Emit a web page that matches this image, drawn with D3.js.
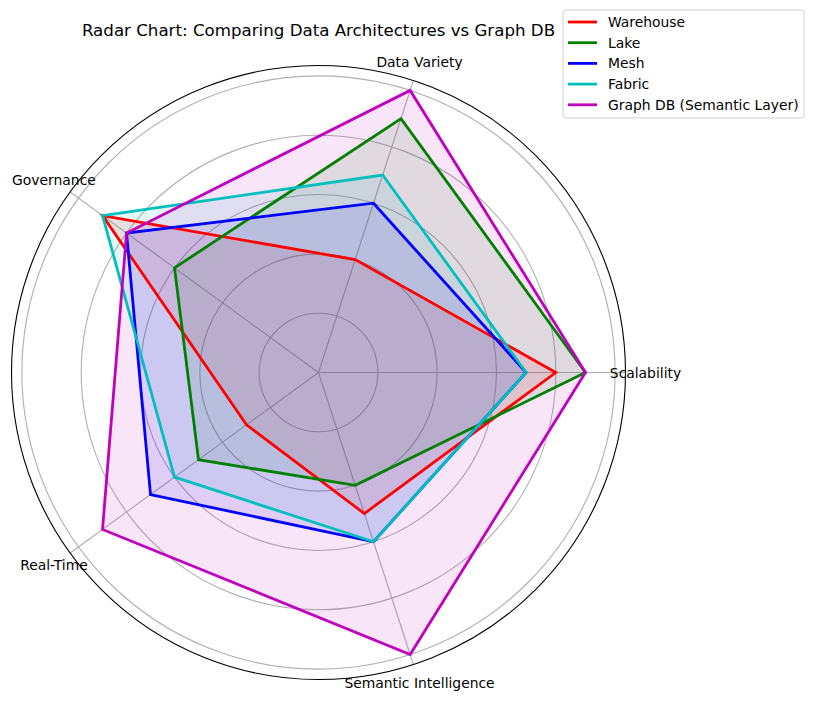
<!DOCTYPE html>
<html>
<head>
<meta charset="utf-8">
<script src="https://cdn.jsdelivr.net/npm/d3@7"></script>
<style>
body { margin: 0; background: #fff; }
text { font-family: "DejaVu Sans", sans-serif; fill: #000; }
</style>
</head>
<body>
<script>
// categories and series
var categories = ["Scalability", "Data Variety", "Governance", "Real-Time", "Semantic Intelligence"];
var seriesNames = ["Warehouse", "Lake", "Mesh", "Fabric", "Graph DB (Semantic Layer)"];
var warehouse = [8, 4, 9, 3, 5];
var lake = [9, 9, 6, 5, 4];
var mesh = [7, 6, 8, 7, 6];
var fabric = [7, 7, 9, 6, 6];
var graphDb = [9, 10, 8, 9, 10];
var radialTicks = [2, 4, 6, 8, 10];

var seriesValues = [warehouse, lake, mesh, fabric, graphDb];
var colors = ["#ff0000", "#008000", "#0000ff", "#00bfbf", "#bf00bf"];

var width = 813, height = 701;
var cx = 318.5, cy = 372.5;
var outerR = 307;

var svg = d3.select("body")
	.append("svg")
	.attr("width", width)
	.attr("height", height);

var r = d3.scaleLinear().domain([0, 10.35]).range([0, outerR]);

// matplotlib style angle: east, counter clockwise
var theta = d3.scaleLinear().domain([0, categories.length]).range([0, 2 * Math.PI]);
// d3 radial angle: from north, clockwise
function d3Angle(i) { return Math.PI / 2 - theta(i); }

var g = svg.append("g").attr("transform", "translate(" + cx + "," + cy + ")");

// grid circles
g.selectAll(".grid")
	.data(radialTicks)
	.enter().append("circle")
	.attr("r", function(d) { return r(d); })
	.style("fill", "none")
	.style("stroke", "#b0b0b0")
	.style("stroke-width", 1.1);

// spokes
g.selectAll(".spoke")
	.data(categories)
	.enter().append("line")
	.attr("x1", 0).attr("y1", 0)
	.attr("x2", function(d, i) { return outerR * Math.cos(theta(i)); })
	.attr("y2", function(d, i) { return -outerR * Math.sin(theta(i)); })
	.style("stroke", "#b0b0b0")
	.style("stroke-width", 1.1);

var radar = d3.lineRadial()
	.angle(function(d, i) { return d3Angle(i); })
	.radius(function(d) { return r(d); })
	.curve(d3.curveLinearClosed);

// fills go under all the lines
seriesValues.forEach(function(vals, k) {
	g.append("path")
		.attr("d", radar(vals))
		.style("fill", colors[k])
		.style("fill-opacity", 0.1)
		.style("stroke", "none");
});
seriesValues.forEach(function(vals, k) {
	g.append("path")
		.attr("d", radar(vals))
		.style("fill", "none")
		.style("stroke", colors[k])
		.style("stroke-width", 2.78)
		.style("stroke-linejoin", "miter");
});

// outer spine
g.append("circle")
	.attr("r", outerR)
	.style("fill", "none")
	.style("stroke", "black")
	.style("stroke-width", 1.1);

// category labels
g.selectAll(".cat")
	.data(categories)
	.enter().append("text")
	.attr("x", function(d, i) { return 327 * Math.cos(theta(i)); })
	.attr("y", function(d, i) { return -327 * Math.sin(theta(i)); })
	.attr("text-anchor", "middle")
	.attr("dominant-baseline", "central")
	.style("font-size", "13.89px")
	.text(function(d) { return d; });

// title
svg.append("text")
	.attr("x", cx)
	.attr("y", 36)
	.attr("text-anchor", "middle")
	.style("font-size", "16.67px")
	.text("Radar Chart: Comparing Data Architectures vs Graph DB");

// legend
var legend = svg.append("g").attr("transform", "translate(563,10)");
legend.append("rect")
	.attr("width", 241).attr("height", 108)
	.attr("rx", 3)
	.style("fill", "white")
	.style("fill-opacity", 0.8)
	.style("stroke", "#d0d0d0")
	.style("stroke-width", 1);

for (i = 0; i < seriesNames.length; i++) {
	var ly = 12 + i * 20.7;
	legend.append("line")
		.attr("x1", 5).attr("x2", 34)
		.attr("y1", ly).attr("y2", ly)
		.style("stroke", colors[i])
		.style("stroke-width", 2.78);
	legend.append("text")
		.attr("x", 45)
		.attr("y", ly)
		.attr("dominant-baseline", "central")
		.style("font-size", "13.89px")
		.text(seriesNames[i]);
}
</script>
</body>
</html>
